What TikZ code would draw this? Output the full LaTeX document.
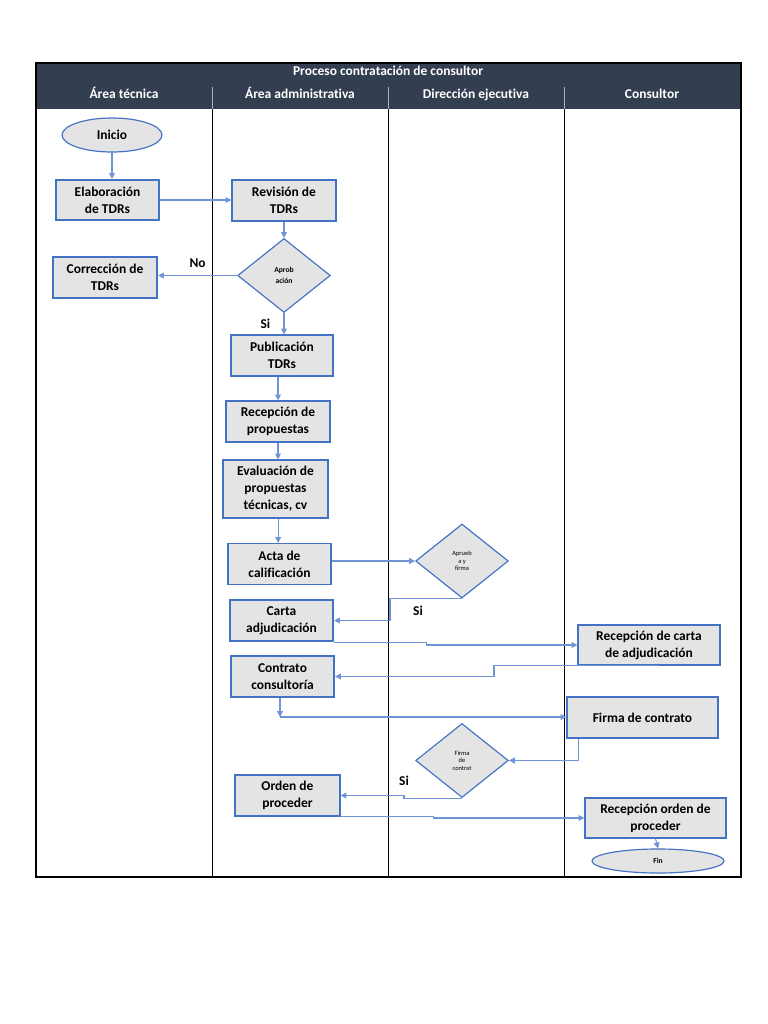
\documentclass[tikz,border=0pt]{standalone}
\usepackage{fontspec}
\setmainfont[Ligatures=NoCommon]{Carlito}
\usetikzlibrary{positioning,arrows.meta,calc,shapes.geometric}
\definecolor{hdr}{HTML}{333F50}
\definecolor{bx}{HTML}{4472C4}
\definecolor{ln}{HTML}{6F95D6}
\definecolor{fl}{HTML}{E4E4E4}

\begin{document}
\begin{tikzpicture}[x=0.03cm, y=-0.03cm,
  proc/.style={draw=bx, line width=1pt, fill=fl, rectangle, inner sep=0pt, align=center,
    font=\fontsize{11.5}{14.5}\selectfont\bfseries, minimum width=#1},
  proc/.default=3.1cm,
  procb/.style={proc=#1, line width=1.8pt},
  procb/.default=3.1cm,
  dec/.style={draw=bx, line width=1pt, fill=fl, diamond, inner sep=0pt, align=center,
    minimum width=2.78cm, minimum height=2.22cm, font=\fontsize{5.5}{6.5}\selectfont},
  term/.style={draw=bx, line width=1pt, fill=fl, ellipse, inner sep=0pt, align=center,
    font=\fontsize{11.5}{14.5}\selectfont\bfseries},
  lane/.style={font=\fontsize{11.5}{14.5}\selectfont\bfseries, text=white, text height=1.6ex, text depth=0.4ex},
  lbl/.style={font=\fontsize{11.5}{14.5}\selectfont\bfseries},
  arr/.style={draw=ln, line width=0.9pt, -{Triangle[length=5pt,width=5pt]}},
]
\useasboundingbox (0,0) rectangle (768,1024);
% --- frame and header ---
\fill[hdr] (36,63) rectangle (741,109);
\draw[line width=1pt] (36,63) rectangle (741,877);
\foreach \lx in {212,388,564} {
  \draw[gray!60, line width=0.6pt] (\lx,87) -- (\lx,109);
  \draw[line width=0.8pt] (\lx,109) -- (\lx,877);
}
\node[lane] (title) at (388,72) {Proceso contratación de consultor};
\node[lane] (h1) at (124,95) {Área técnica};
\node[lane] (h2) at (300,95) {Área administrativa};
\node[lane] (h3) at (476,95) {Dirección ejecutiva};
\node[lane] (h4) at (652,95) {Consultor};
% --- nodes ---
\node[term, minimum width=3cm, minimum height=1.02cm] (inicio) at (112,135) {Inicio};
\node[procb=3.09cm, minimum height=1.2cm] (elab) at (107.5,200) {Elaboración\\de TDRs};
\node[proc=3.12cm, minimum height=1.23cm] (revis) at (284,200.5) {Revisión de\\TDRs};
\node[dec, font=\fontsize{6.5}{9}\selectfont\bfseries] (aprob) at (284,275.5) {Aprob\\ación};
\node[procb=3.12cm, minimum height=1.23cm] (correc) at (105,277.5) {Corrección de\\TDRs};
\node[proc=3.06cm, minimum height=1.23cm] (public) at (282,355.5) {Publicación\\TDRs};
\node[proc=3.12cm, minimum height=1.23cm] (recep) at (278,421.5) {Recepción de\\propuestas};
\node[proc=3.15cm, minimum height=1.74cm] (evalu) at (275.5,489) {Evaluación de\\propuestas\\técnicas, cv};
\node[proc=3.09cm, minimum height=1.23cm] (acta) at (279.5,564) {Acta de\\calificación};
\node[dec] (afirma) at (462,561) {Aprueb\\a y\\firma};
\node[procb=3.09cm, minimum height=1.23cm] (carta) at (281.5,620.5) {Carta\\adjudicación};
\node[proc=4.26cm, minimum height=1.2cm] (rcarta) at (649,645) {Recepción de carta\\de adjudicación};
\node[procb=3.09cm, minimum height=1.23cm] (contra) at (282.5,676.5) {Contrato\\consultoría};
\node[proc=4.53cm, minimum height=1.23cm] (firma) at (642.5,717.5) {Firma de contrato};
\node[dec] (dfirma) at (462,760.5) {Firma\\de\\contrat};
\node[proc=3.15cm, minimum height=1.23cm] (orden) at (287.5,795.5) {Orden de\\proceder};
\node[proc=4.23cm, minimum height=1.2cm] (rorden) at (655.5,818) {Recepción orden de\\proceder};
\node[term, minimum width=3.96cm, minimum height=0.72cm, font=\fontsize{6.5}{8}\selectfont\bfseries] (fin) at (658,861) {Fin};
\coordinate (cf) at (280,717);
% --- connectors ---
\draw[arr] (inicio.south) -- (inicio.south |- elab.north);
\draw[arr] (elab.east) -- (elab.east -| revis.west);
\draw[arr] (revis.south) -- (aprob.north);
\draw[arr] (aprob.west) -- (aprob.west -| correc.east) node[lbl, midway, above=3pt] (lno) {No};
\draw[arr] (aprob.south) -- (aprob.south |- public.north) node[lbl, midway, left=8pt] (lsi1) {Si};
\draw[arr] (recep.north |- public.south) -- (recep.north);
\draw[arr] (recep.south) -- (recep.south |- evalu.north);
\draw[arr] ([xshift=0.08cm]evalu.south) -- ([xshift=0.08cm]evalu.south |- acta.north);
\draw[arr] (acta.east |- afirma.west) -- (afirma.west);
\draw[arr] (afirma.south) -- ++(-72,0) |- (carta.east);
\node[lbl] (lsi2) at (418,611) {Si};
\draw[arr] (carta.south east) -- ++(92,0) |- (rcarta.west);
\draw[arr] ([xshift=0.3cm]rcarta.south) -- ++(-165,0) |- (contra.east);
\draw[arr] (contra.south -| cf) -- (cf);
\draw[arr] (cf) -- (cf -| firma.west);
\draw[arr] ([xshift=0.36cm]firma.south west) |- (dfirma.east);
\draw[arr] (dfirma.south) -- ++(-58,0) |- (orden.east);
\node[lbl] (lsi3) at (404,781) {Si};
\draw[arr] (orden.south east) -- ++(93,0) |- (rorden.west);
\draw[arr] (rorden.south) -- (fin.north);
\end{tikzpicture}
\end{document}
